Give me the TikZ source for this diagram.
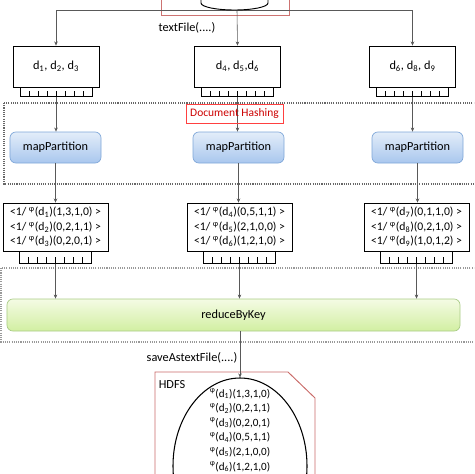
\documentclass[tikz,border=0pt]{standalone}
\usepackage{fontspec}
\setmainfont{Carlito}
\usetikzlibrary{arrows.meta,calc,positioning,shapes.geometric}

\definecolor{hdfsred}{HTML}{C0504D}
\definecolor{mapline}{HTML}{7EA6D8}
\definecolor{maptop}{HTML}{E3EDF9}
\definecolor{mapbot}{HTML}{A9C7EE}
\definecolor{redline}{HTML}{A9CB86}
\definecolor{redtop}{HTML}{F4FBE4}
\definecolor{redbot}{HTML}{D2EFA2}

\newcommand{\dsub}[1]{d\textsubscript{#1}}
\newcommand{\phis}{\textsuperscript{φ}}

\begin{document}
\begin{tikzpicture}[x=0.03cm, y=-0.03cm, >={Stealth[length=3.5pt,width=3pt]},
  font=\fontsize{10.5}{12}\selectfont,
  flow/.style={->, draw=black!65, line width=0.5pt},
  part/.style={draw, line width=0.7pt, minimum width=2.58cm, minimum height=1.23cm, inner sep=1pt},
  vect/.style={draw, line width=0.7pt, minimum width=3.15cm, minimum height=1.44cm, align=center,
    inner sep=1pt, font=\fontsize{10}{12.4}\selectfont},
  comb/.style={draw, line width=0.6pt, minimum width=2.16cm, minimum height=#1, inner sep=0pt,
    path picture={\foreach \i in {1,...,7}
      \draw[line width=0.5pt] ($(path picture bounding box.south west)!\i/8!(path picture bounding box.south east)$) -- ++(0pt,0.6*#1);}},
  mapbox/.style={draw=mapline, line width=0.6pt, rounded corners=5pt, top color=maptop, bottom color=mapbot,
    minimum width=2.73cm, minimum height=0.93cm},
  redbox/.style={draw=redline, line width=0.6pt, rounded corners=5pt, top color=redtop, bottom color=redbot,
    minimum width=13.59cm, minimum height=0.96cm},
  stage/.style={densely dotted, line width=0.9pt, black!60}]
\useasboundingbox (0,0) rectangle (474,474);
\clip (0,0) rectangle (474,474);

% source and split
\draw[hdfsred!80, line width=0.6pt] (161,-5) rectangle (289,15);
\coordinate (split) at (237,10);
\node[part] (p1) at (56,66.5) {\dsub{1}, \dsub{2}, \dsub{3}};
\node[part] (p2) at (237.5,66.5) {\dsub{4}, \dsub{5},\dsub{6}};
\node[part] (p3) at (412.5,66.5) {\dsub{6}, \dsub{8}, \dsub{9}};
\node[comb=0.27cm, below=0pt of p1] (c1) {};
\node[comb=0.27cm, below=0pt of p2] (c2) {};
\node[comb=0.27cm, below=0pt of p3] (c3) {};
\draw[flow] (split) -| (p1.north);
\draw[flow] (split) -- (p2.north);
\draw[flow] (split) -| (p3.north);
\draw[line width=0.8pt, fill=white] (201,-5) -- (201,3) arc[start angle=180, end angle=0, x radius=33.5, y radius=7] -- (268,-5);
\node (tf) at (187,28) {textFile(....)};

% document hashing
\draw[stage] (4,103) rectangle (480,184);
\node[mapbox] (m1) at (55.5,147.5) {mapPartition};
\node[mapbox] (m2) at (238.5,147.5) {mapPartition};
\node[mapbox] (m3) at (417.5,147.5) {mapPartition};
\draw[flow] (c1.south) -- (c1.south |- m1.north);
\draw[flow] (c2.south) -- (c2.south |- m2.north);
\draw[flow] (c3.south) -- (c3.south |- m3.north);
\node[draw=red!75, text=red!80!black, line width=0.6pt, minimum width=2.91cm, minimum height=0.57cm, inner sep=1pt,
  font=\fontsize{9.8}{12}\selectfont] (dh) at (234.5,113.5) {Document Hashing};

% vectors
\node[vect] (v1) at (55.5,227) {<1/ \phis(\dsub{1})(1,3,1,0) >\\<1/ \phis(\dsub{2})(0,2,1,1) >\\<1/ \phis(\dsub{3})(0,2,0,1) >};
\node[vect] (v2) at (239.5,227) {<1/ \phis(\dsub{4})(0,5,1,1) >\\<1/ \phis(\dsub{5})(2,1,0,0) >\\<1/ \phis(\dsub{6})(1,2,1,0) >};
\node[vect] (v3) at (416.5,227) {<1/ \phis(\dsub{7})(0,1,1,0) >\\<1/ \phis(\dsub{8})(0,2,1,0) >\\<1/ \phis(\dsub{9})(1,0,1,2) >};
\node[comb=0.36cm, below=0pt of v1] (vc1) {};
\node[comb=0.36cm, below=0pt of v2] (vc2) {};
\node[comb=0.36cm, below=0pt of v3] (vc3) {};
\draw[flow] (m1.south) -- (m1.south |- v1.north);
\draw[flow] (m2.south) -- (m2.south |- v2.north);
\draw[flow] (m3.south) -- (m3.south |- v3.north);

% reduce
\draw[stage, black!40] (1,268) rectangle (480,342);
\node[redbox] (r) at (233.5,315) {reduceByKey};
\draw[flow] (vc1.south) -- (vc1.south |- r.north);
\draw[flow] (vc2.south) -- (vc2.south |- r.north);
\draw[flow] (vc3.south) -- (vc3.south |- r.north);

% output
\node (sv) at (192,358) {saveAstextFile(....)};
\draw[hdfsred!85, line width=0.8pt] (155,480) -- (155,372) -- (288,372) -- (315,398) -- (315,480);
\node (hdfs) at (172,385) {HDFS};
\node[draw, ellipse, line width=0.9pt, minimum width=4.02cm, minimum height=5.28cm] (store) at (240,466) {};
\node[anchor=north, align=center, font=\fontsize{9.5}{12.4}\selectfont] (lst) at (240,385)
  {\phis(\dsub{1})(1,3,1,0)\\\phis(\dsub{2})(0,2,1,1)\\\phis(\dsub{3})(0,2,0,1)\\\phis(\dsub{4})(0,5,1,1)\\\phis(\dsub{5})(2,1,0,0)\\\phis(\dsub{6})(1,2,1,0)};
\draw[flow] (store.north |- r.south) -- (store.north);
\end{tikzpicture}
\end{document}
